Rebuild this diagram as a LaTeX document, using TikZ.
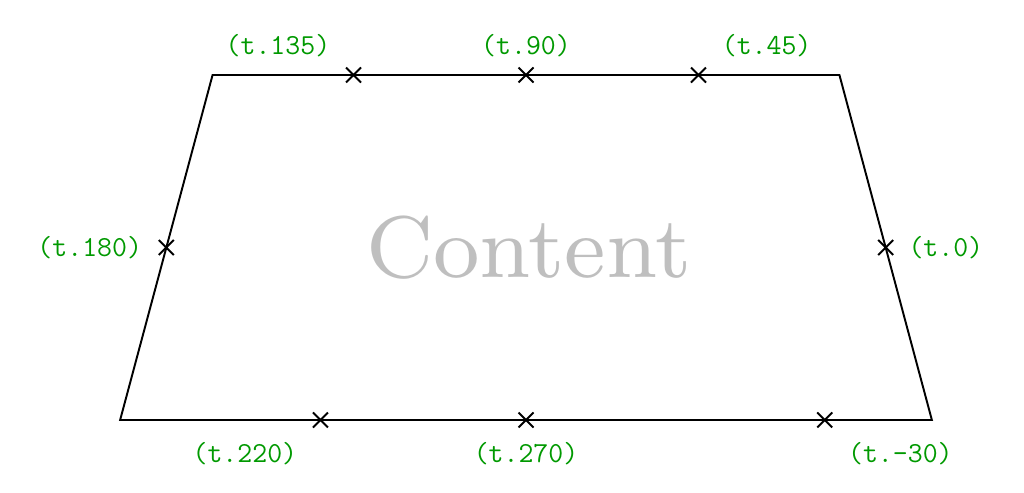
\documentclass[tikz,border=0pt]{standalone}
\usepackage{fontspec}
\newfontfamily\contentfont{lmroman8-regular.otf}
\usetikzlibrary{shapes.geometric,shapes.misc,positioning}
\begin{document}
\begin{tikzpicture}[x=0.02cm,y=-0.02cm,
		shapebox/.style={trapezium, draw, line width=1.1pt,
			trapezium left angle=75, trapezium right angle=75,
			text width=6.4cm, align=center, text height=1.24cm, text depth=0.03cm,
			inner xsep=3.07cm, inner ysep=2.815cm, outer sep=0pt,
			font=\contentfont\fontsize{49.8}{60}\selectfont, text=gray!50},
		anchormark/.style={cross out, draw, line width=1.1pt, minimum size=0.3cm, inner sep=0pt, outer sep=0pt},
		anchorlabel/.style={text=green!60!black, font=\fontsize{16.5}{19}\selectfont\ttfamily, inner sep=0.15cm}]
			\useasboundingbox (0,0) rectangle (1024,493);
			\node[shapebox] (t) at (526,247.5) {Content};
			\foreach \a in {0,45,90,135,180,220,270,-30}{
				\node[anchormark] (m\a) at (t.\a) {};
			}
			\foreach \a/\p/\v/\h in {135/above left/0.05/0.16,90/above/0.05/0,45/above right/0.05/0.16,
				180/left/0/0.18,0/right/0/0.15,
				220/below left/0.15/0.16,270/below/0.15/0,-30/below right/0.15/0.16}{
				\node[anchorlabel, \p=\v cm and \h cm of m\a] (l\a) {(t.\a)};
			}
		\end{tikzpicture}
\end{document}
